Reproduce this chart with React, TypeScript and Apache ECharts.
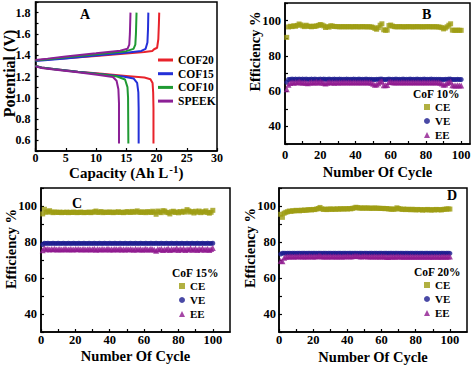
import React, { useEffect, useRef } from "react";
import * as echarts from "echarts";

// ---------- Panel A : charge / discharge curves (capacity Ah/L, potential V) ----------
const cof20Charge = [[0,1.352],[2,1.36],[5,1.372],[10,1.392],[15,1.415],[18,1.43],[19.3,1.44],[19.6,1.456],[20.1,1.47],[20.3,1.55],[20.4,1.7],[20.45,1.8]];
const cof20Discharge = [[0,1.3],[1,1.285],[3,1.27],[7,1.245],[11,1.225],[15,1.205],[18,1.19],[19,1.175],[19.35,1.14],[19.45,1.05],[19.5,0.9],[19.5,0.57]];
const cof15Charge = [[0,1.345],[2,1.355],[5,1.37],[10,1.397],[15,1.423],[17.5,1.44],[18.2,1.46],[18.5,1.52],[18.6,1.65],[18.65,1.8]];
const cof15Discharge = [[0,1.3],[1,1.285],[3,1.27],[7,1.245],[11,1.222],[14.5,1.2],[16.2,1.182],[16.8,1.14],[17.0,1.05],[17.05,0.9],[17.05,0.57]];
const cof10Charge = [[0,1.35],[2,1.362],[5,1.38],[10,1.408],[15,1.438],[16.2,1.46],[16.5,1.5],[16.6,1.6],[16.7,1.8]];
const cof10Discharge = [[0,1.298],[1,1.283],[3,1.268],[7,1.243],[11,1.22],[13.5,1.2],[14.8,1.172],[15.2,1.1],[15.3,1.0],[15.35,0.57]];
const speekCharge = [[0,1.355],[2,1.368],[5,1.388],[10,1.418],[14,1.443],[15.2,1.46],[15.5,1.5],[15.6,1.6],[15.7,1.8]];
const speekDischarge = [[0,1.295],[1,1.28],[3,1.265],[7,1.24],[10.5,1.215],[12.8,1.195],[13.4,1.16],[13.7,1.08],[13.8,0.95],[13.8,0.57]];

const capacityTicks = [0, 5, 10, 15, 20, 25, 30];
const potentialTicks = [0.6, 0.8, 1.0, 1.2, 1.4, 1.6, 1.8];
const potentialMinorTicks = [0.5,0.6,0.7,0.8,0.9,1.0,1.1,1.2,1.3,1.4,1.5,1.6,1.7,1.8,1.9];

// ---------- Panels B, C, D : efficiencies vs cycle number (cycles 1..100) ----------
const cycleLabels = [0, 20, 40, 60, 80, 100];
const cycleTicks = [0, 10, 20, 30, 40, 50, 60, 70, 80, 90, 100];
const effLabels = [40, 60, 80, 100];
const effTicks = [30, 40, 50, 60, 70, 80, 90, 100, 110];

const bCE = [90.5,96.4,96.8,96.6,97.1,96.8,97.3,98.1,97.6,97.0,
  96.6,97.4,96.9,96.7,96.5,96.9,96.7,97.0,97.3,97.8,
  97.5,97.0,96.1,96.6,96.3,97.1,96.9,96.7,96.6,96.6,
  96.5,96.5,96.6,96.5,96.5,96.6,96.5,96.5,96.5,96.6,
  96.5,96.5,96.5,96.6,96.5,96.5,96.5,96.5,96.4,96.2,
  95.6,95.1,96.0,97.4,98.2,94.8,94.5,94.6,97.2,97.5,
  96.9,96.6,96.5,96.5,96.6,96.5,96.5,96.5,96.5,96.6,
  96.5,96.5,96.5,96.5,96.6,96.5,96.5,96.5,96.5,96.5,
  96.6,96.5,96.5,96.5,96.5,96.5,96.4,96.3,96.0,95.3,
  95.8,96.5,97.4,98.2,94.6,94.5,94.5,94.6,94.5,94.5];
const bVE = [65.0,66.6,66.7,66.8,66.7,66.8,66.7,66.8,66.7,66.8,
  66.7,66.8,66.7,66.7,66.8,66.7,66.8,66.7,66.7,66.8,
  66.7,66.8,66.7,66.7,66.8,66.7,66.7,66.8,66.7,66.7,
  66.8,66.7,66.7,66.7,66.8,66.7,66.7,66.7,66.8,66.7,
  66.7,66.8,66.7,66.7,66.7,66.8,66.7,66.7,66.7,66.6,
  66.6,66.7,66.7,66.8,66.8,66.6,66.6,66.7,66.8,66.7,
  66.7,66.7,66.8,66.7,66.7,66.7,66.8,66.7,66.7,66.7,
  66.8,66.7,66.7,66.7,66.8,66.7,66.7,66.7,66.8,66.7,
  66.7,66.7,66.8,66.7,66.7,66.7,66.7,66.7,66.6,66.6,
  66.7,66.7,66.8,66.8,66.6,66.6,66.6,66.7,66.6,66.6];
const bEE = [61.0,63.6,64.6,65.0,64.8,65.2,64.9,65.4,65.0,64.7,
  65.1,64.8,64.5,64.9,65.2,64.7,65.0,65.3,64.8,65.5,
  65.1,64.6,64.3,64.8,65.2,64.9,65.0,64.8,65.0,64.9,
  65.0,64.9,65.0,65.0,64.9,65.0,65.0,64.9,65.0,65.0,
  64.9,65.0,65.0,64.9,65.0,65.0,64.9,65.0,64.8,64.2,
  63.6,63.8,64.5,65.3,65.6,63.4,63.3,63.5,65.2,65.3,
  65.0,64.9,65.0,65.0,64.9,65.0,65.0,64.9,65.0,65.0,
  64.9,65.0,65.0,64.9,65.0,65.0,64.9,65.0,65.0,64.9,
  65.0,65.0,64.9,65.0,65.0,64.9,65.0,64.8,64.3,63.6,
  63.8,64.6,65.1,65.4,63.3,63.2,63.2,63.3,63.2,63.2];

const cCE = [95.6,98.2,96.5,96.8,97.4,96.6,96.3,96.7,96.5,96.4,
  96.6,96.3,96.5,96.4,96.6,96.3,96.5,96.4,96.6,96.5,
  96.3,96.4,96.6,96.5,96.3,96.4,96.5,96.6,96.3,96.5,
  96.8,97.2,96.4,96.6,96.9,96.3,96.5,96.6,96.4,96.7,
  96.5,96.3,96.6,96.5,96.8,96.4,96.6,96.3,96.5,96.9,
  96.6,96.4,97.0,96.5,96.7,97.3,96.6,96.4,96.8,96.5,
  96.3,96.9,96.6,96.4,97.1,96.5,95.4,97.2,96.6,96.3,
  97.4,97.2,96.5,96.3,95.6,96.8,97.1,96.4,96.7,96.2,
  96.9,96.5,97.1,96.6,98.0,97.3,96.6,96.9,96.1,97.1,
  96.5,97.2,96.3,96.8,96.6,97.3,96.4,96.0,96.5,97.6];
const cVE = [78.6,79.3,79.2,79.3,79.2,79.2,79.3,79.2,79.2,79.3,
  79.2,79.2,79.3,79.2,79.2,79.3,79.2,79.2,79.3,79.2,
  79.2,79.3,79.2,79.2,79.3,79.2,79.2,79.3,79.2,79.2,
  79.3,79.2,79.2,79.3,79.2,79.2,79.3,79.2,79.2,79.3,
  79.2,79.2,79.3,79.2,79.2,79.3,79.2,79.2,79.3,79.2,
  79.2,79.3,79.2,79.2,79.3,79.2,79.2,79.3,79.2,79.2,
  79.3,79.2,79.2,79.3,79.2,79.2,79.3,79.2,79.2,79.3,
  79.2,79.2,79.3,79.2,79.2,79.3,79.2,79.2,79.3,79.2,
  79.2,79.3,79.2,79.2,79.3,79.2,79.2,79.3,79.2,79.2,
  79.3,79.2,79.2,79.3,79.2,79.2,79.3,79.2,79.2,79.3];
const cEE = [75.4,76.6,76.0,76.2,75.9,76.1,76.0,76.2,75.9,76.0,
  76.1,75.9,76.0,76.2,76.0,75.9,76.1,76.0,75.9,76.1,
  76.0,76.1,75.9,76.0,76.1,75.8,76.0,76.1,75.9,76.0,
  76.2,75.7,76.1,75.9,76.0,76.1,75.8,76.0,76.2,75.9,
  76.0,75.8,76.1,76.0,75.9,76.2,75.9,76.0,75.8,76.1,
  75.9,76.1,76.0,75.7,76.2,75.9,76.0,76.1,75.7,76.0,
  76.3,75.8,75.9,76.2,76.0,75.7,75.2,76.1,75.8,76.3,
  75.6,76.0,75.9,76.4,75.5,76.1,75.8,76.0,76.5,75.6,
  76.2,75.8,76.4,75.6,76.1,75.9,76.6,75.7,76.0,76.4,
  75.6,76.2,75.8,76.5,75.7,76.0,76.3,75.5,76.1,76.6];

const dCE = [95.4,93.7,96.0,96.5,96.8,97.2,97.0,97.4,97.2,97.6,
  97.5,97.3,97.7,97.5,97.8,97.6,97.9,98.0,97.8,98.1,
  98.0,98.3,98.6,99.2,98.4,98.1,98.3,98.0,98.2,98.4,
  98.1,98.3,98.2,98.4,98.2,98.5,98.3,98.4,98.5,98.3,
  98.6,98.4,98.7,98.9,99.3,99.1,98.8,98.9,98.8,98.9,
  98.8,98.9,98.8,98.7,98.8,98.9,98.7,98.8,98.7,98.6,
  98.7,98.5,98.6,98.4,98.3,98.2,98.3,98.2,99.0,98.6,
  98.3,98.1,98.3,98.0,98.2,98.1,97.9,98.2,98.0,97.8,
  98.1,97.9,98.0,97.7,98.0,97.8,98.1,97.9,97.7,98.0,
  97.8,98.1,97.9,98.0,97.8,98.1,98.2,98.3,98.4,98.3];
const dVE = [73.3,73.8,73.8,73.7,73.8,73.8,73.7,73.8,73.8,73.7,
  73.8,73.8,73.7,73.8,73.8,73.7,73.8,73.8,73.7,73.8,
  73.8,73.7,73.8,73.8,73.7,73.8,73.8,73.7,73.8,73.8,
  73.7,73.8,73.8,73.7,73.8,73.8,73.7,73.8,73.8,73.7,
  73.8,73.8,73.7,73.8,73.8,73.7,73.8,73.8,73.7,73.8,
  73.8,73.7,73.8,73.8,73.7,73.8,73.8,73.7,73.8,73.8,
  73.7,73.8,73.8,73.7,73.8,73.8,73.7,73.8,73.8,73.7,
  73.8,73.8,73.7,73.8,73.8,73.7,73.8,73.8,73.7,73.8,
  73.8,73.7,73.8,73.8,73.7,73.8,73.8,73.7,73.8,73.8,
  73.7,73.8,73.8,73.7,73.8,73.8,73.7,73.8,73.8,73.7];
const dEE = [69.6,69.3,71.2,71.8,72.0,71.9,72.1,72.0,71.9,72.1,
  72.0,72.2,71.9,72.0,72.1,71.9,72.0,72.2,72.0,71.9,
  72.1,72.0,72.2,72.3,72.0,71.9,72.1,72.0,71.9,72.1,
  72.0,72.1,71.9,72.0,72.1,72.0,71.9,72.1,72.0,72.2,
  72.1,72.0,72.1,72.2,72.3,72.2,72.1,72.0,72.1,72.2,
  72.1,72.0,72.1,72.0,71.9,72.1,72.0,71.9,72.0,72.1,
  71.9,72.0,71.8,71.6,72.0,71.9,72.0,71.8,72.1,72.0,
  71.9,72.0,71.8,72.0,71.9,71.8,72.0,71.9,71.8,72.0,
  71.9,71.8,72.0,71.9,71.8,71.9,72.0,71.8,71.9,71.8,
  71.9,72.0,71.8,71.9,71.8,72.0,71.9,71.8,71.9,72.0];

const FONT = '"Liberation Serif", "Times New Roman", serif';
const CE_COLOR = "#9e9c12";
const VE_COLOR = "#1c1c8e";
const EE_COLOR = "#8e188e";

const withCycles = (vals: number[]) => vals.map((v, i) => [i + 1, v]);

function effAxes(gi: number, xmax: number, xGap: number, yGap: number, xMargin: number, yMargin: number, nameShift: number) {
  const lbl = { fontFamily: FONT, fontWeight: "bold" as const, fontSize: 12.5, color: "#000", showMinLabel: true, showMaxLabel: true, hideOverlap: false };
  const nameStyle = { fontFamily: FONT, fontWeight: "bold", fontSize: 14.5, color: "#000" };
  const xAxis = {
    gridIndex: gi, type: "value", min: 0, max: xmax,
    name: "Number Of Cycle", nameLocation: "middle", nameGap: xGap, nameTextStyle: nameStyle, nameMoveOverlap: false,
    axisLine: { show: true, lineStyle: { color: "#000", width: 1.5 } },
    axisTick: { show: true, inside: true, customValues: cycleTicks, length: 3, lineStyle: { color: "#000", width: 1.2 } },
    axisLabel: { ...lbl, customValues: cycleLabels, margin: xMargin },
    splitLine: { show: false },
  };
  const yAxis = {
    gridIndex: gi, type: "value", min: 30, max: 110,
    name: "Efficiency %", nameLocation: "middle", nameGap: yGap, nameMoveOverlap: false,
    nameTextStyle: { ...nameStyle, padding: [0, 0, 0, nameShift * 2] },
    axisLine: { show: true, lineStyle: { color: "#000", width: 1.5 } },
    axisTick: { show: true, inside: true, customValues: effTicks, length: 3, lineStyle: { color: "#000", width: 1.2 } },
    axisLabel: { ...lbl, customValues: effLabels, margin: yMargin },
    splitLine: { show: false },
  };
  return { xAxis, yAxis };
}

function effSeries(gi: number, ce: number[], ve: number[], ee: number[]) {
  return [
    { name: "CE", type: "scatter", xAxisIndex: gi, yAxisIndex: gi, symbol: "rect", symbolSize: 5, itemStyle: { color: CE_COLOR }, data: withCycles(ce) },
    { name: "VE", type: "scatter", xAxisIndex: gi, yAxisIndex: gi, symbol: "circle", symbolSize: 5, itemStyle: { color: VE_COLOR }, data: withCycles(ve) },
    { name: "EE", type: "scatter", xAxisIndex: gi, yAxisIndex: gi, symbol: "triangle", symbolSize: 6, itemStyle: { color: EE_COLOR }, data: withCycles(ee) },
  ];
}

function effLegend(left: number, top: number) {
  return {
    left, top, padding: 0, orient: "vertical", itemWidth: 6, itemHeight: 6, itemGap: 1,
    data: [
      { name: "CE", icon: "rect" },
      { name: "VE", icon: "circle" },
      { name: "EE", icon: "triangle" },
    ],
    textStyle: { fontFamily: FONT, fontWeight: "bold", fontSize: 11, color: "#000", lineHeight: 13 },
    selectedMode: false,
  };
}

export default function App() {
  const ref = useRef<HTMLDivElement>(null);
  useEffect(() => {
    if (!ref.current) return;
    const chart = echarts.init(ref.current, undefined, { renderer: "svg" });
    const titleStyle = { fontFamily: FONT, fontWeight: "bold", fontSize: 14, color: "#000" };
    const subStyle = { fontFamily: FONT, fontWeight: "bold", fontSize: 11.5, color: "#000" };
    const b = effAxes(1, 105, 20, 23, 4, 4, 22);
    const c = effAxes(2, 110, 16.5, 23, 1, 4, 11);
    const d = effAxes(3, 110, 17.5, 22, 1, 3, 12);
    const lineA = (name: string, color: string, data: number[][]) => ({
      name, type: "line", xAxisIndex: 0, yAxisIndex: 0, data, showSymbol: false, symbol: "none",
      lineStyle: { color, width: 2 }, itemStyle: { color },
    });
    chart.setOption({
      animation: false,
      title: [
        { text: "A", left: 80, top: 7, padding: 0, textStyle: titleStyle },
        { text: "B", left: 422, top: 7, padding: 0, textStyle: titleStyle },
        { text: "C", left: 72, top: 196, padding: 0, textStyle: titleStyle },
        { text: "D", left: 447, top: 188, padding: 0, textStyle: titleStyle },
        { text: "CoF 10%", left: 413, top: 88, padding: 0, textStyle: subStyle },
        { text: "CoF 15%", left: 172, top: 267, padding: 0, textStyle: subStyle },
        { text: "CoF 20%", left: 414, top: 266, padding: 0, textStyle: subStyle },
      ],
      legend: [
        {
          left: 158, top: 53.5, padding: 0, orient: "vertical", itemWidth: 15, itemHeight: 3, itemGap: 0.7, icon: "rect",
          data: ["COF20", "COF15", "COF10", "SPEEK"],
          textStyle: { fontFamily: FONT, fontWeight: "bold", fontSize: 11.5, color: "#000", lineHeight: 13 },
          selectedMode: false,
        },
        effLegend(424, 100.5),
        effLegend(179, 279.5),
        effLegend(424, 278.5),
      ],
      grid: [
        { left: 35, right: 257, top: 2, bottom: 217, show: true, borderColor: "#000", borderWidth: 1.5 },
        { left: 285, right: 4, top: 3, bottom: 224, show: true, borderColor: "#000", borderWidth: 1.5 },
        { left: 41, right: 244, top: 188, bottom: 36, show: true, borderColor: "#000", borderWidth: 1.5 },
        { left: 279, right: 7, top: 188, bottom: 36, show: true, borderColor: "#000", borderWidth: 1.5 },
      ],
      xAxis: [
        {
          gridIndex: 0, type: "value", min: 0, max: 30, nameMoveOverlap: false,
          name: "{m|Capacity (Ah L}{s|-1}{m|)}", nameLocation: "middle", nameGap: 14,
          nameTextStyle: {
            fontFamily: FONT, fontWeight: "bold", fontSize: 15, color: "#000",
            rich: {
              m: { fontFamily: FONT, fontWeight: "bold", fontSize: 15, color: "#000", verticalAlign: "bottom", lineHeight: 15 },
              s: { fontFamily: FONT, fontWeight: "bold", fontSize: 11, color: "#000", verticalAlign: "bottom", lineHeight: 11, padding: [0, 0, 6, 1] },
            },
          },
          axisLine: { show: true, lineStyle: { color: "#000", width: 1.5 } },
          axisTick: { show: true, inside: true, customValues: capacityTicks, length: 3, lineStyle: { color: "#000", width: 1.2 } },
          axisLabel: { customValues: capacityTicks, fontFamily: FONT, fontWeight: "bold", fontSize: 12, color: "#000", margin: 1 },
          splitLine: { show: false },
        },
        b.xAxis, c.xAxis, d.xAxis,
      ],
      yAxis: [
        {
          gridIndex: 0, type: "value", min: 0.5, max: 1.9, nameMoveOverlap: false,
          name: "Potential (V)", nameLocation: "middle", nameGap: 18.5,
          nameTextStyle: { fontFamily: FONT, fontWeight: "bold", fontSize: 16, color: "#000", padding: [0, 0, 0, 6] },
          axisLine: { show: true, lineStyle: { color: "#000", width: 1.5 } },
          axisTick: { show: true, inside: true, customValues: potentialMinorTicks, length: 3, lineStyle: { color: "#000", width: 1.2 } },
          axisLabel: { customValues: potentialTicks, fontFamily: FONT, fontWeight: "bold", fontSize: 12, color: "#000", margin: 5, formatter: (v: number) => v.toFixed(1) },
          splitLine: { show: false },
        },
        b.yAxis, c.yAxis, d.yAxis,
      ],
      series: [
        lineA("COF20", "#e8232b", cof20Charge),
        lineA("COF20", "#e8232b", cof20Discharge),
        lineA("COF15", "#2430d8", cof15Charge),
        lineA("COF15", "#2430d8", cof15Discharge),
        lineA("COF10", "#1f9a32", cof10Charge),
        lineA("COF10", "#1f9a32", cof10Discharge),
        lineA("SPEEK", "#8c2096", speekCharge),
        lineA("SPEEK", "#8c2096", speekDischarge),
        ...effSeries(1, bCE, bVE, bEE),
        ...effSeries(2, cCE, cVE, cEE),
        ...effSeries(3, dCE, dVE, dEE),
      ],
    });
    return () => chart.dispose();
  }, []);
  return <div ref={ref} style={{ position: "absolute", left: 0, top: 0, width: 474, height: 368 }} />;
}
